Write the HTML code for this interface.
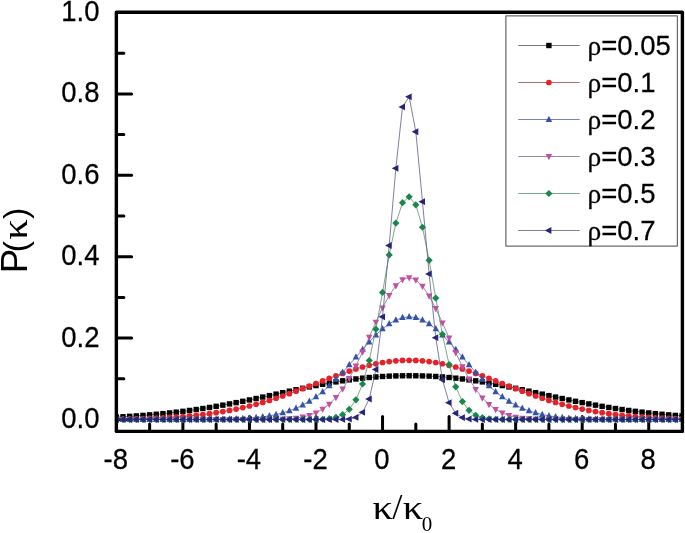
<!DOCTYPE html>
<html><head><meta charset="utf-8"><title>P(κ)</title>
<style>
html,body{margin:0;padding:0;background:#fff;}
body{width:685px;height:533px;overflow:hidden;}
svg{display:block;}
text{font-family:"Liberation Sans",sans-serif;fill:#000;}
.t{font-size:27.5px;stroke:#000;stroke-width:0.25px;}
.s{font-family:"Liberation Serif",serif;}
</style></head><body>
<svg width="685" height="533" viewBox="0 0 685 533">
<rect width="685" height="533" fill="#fff"/>

<defs><clipPath id="c"><rect x="116.35" y="12.3" width="566.05" height="419.09999999999997"/></clipPath></defs>
<path d="M149.62 431.4V423.9M182.90 431.4V416.4M216.17 431.4V423.9M249.45 431.4V416.4M282.72 431.4V423.9M315.99 431.4V416.4M349.27 431.4V423.9M382.54 431.4V416.4M415.82 431.4V423.9M449.09 431.4V416.4M482.36 431.4V423.9M515.64 431.4V416.4M548.91 431.4V423.9M582.19 431.4V416.4M615.46 431.4V423.9M648.73 431.4V416.4M116.35 419.50H131.65M116.35 378.80H123.85M116.35 338.10H131.65M116.35 297.40H123.85M116.35 256.70H131.65M116.35 216.00H123.85M116.35 175.30H131.65M116.35 134.60H123.85M116.35 93.90H131.65M116.35 53.20H123.85" stroke="#000" stroke-width="3.0" fill="none" stroke-linecap="round"/>
<g clip-path="url(#c)">
<polyline points="116.35,417.13 123.00,416.76 129.66,416.36 136.31,415.91 142.97,415.42 149.62,414.87 156.28,414.27 162.93,413.62 169.59,412.92 176.24,412.15 182.90,411.33 189.55,410.45 196.21,409.51 202.86,408.51 209.52,407.44 216.17,406.32 222.83,405.14 229.48,403.91 236.14,402.62 242.79,401.29 249.45,399.92 256.10,398.51 262.76,397.07 269.41,395.61 276.07,394.14 282.72,392.66 289.37,391.19 296.03,389.74 302.68,388.31 309.34,386.91 315.99,385.56 322.65,384.27 329.30,383.05 335.96,381.89 342.61,380.82 349.27,379.84 355.92,378.96 362.58,378.18 369.23,377.50 375.89,376.94 382.54,376.48 389.20,376.14 395.85,375.91 402.51,375.77 409.16,375.74 415.82,375.77 422.47,375.91 429.13,376.14 435.78,376.48 442.44,376.94 449.09,377.50 455.74,378.18 462.40,378.96 469.05,379.84 475.71,380.82 482.36,381.89 489.02,383.05 495.67,384.27 502.33,385.56 508.98,386.91 515.64,388.31 522.29,389.74 528.95,391.19 535.60,392.66 542.26,394.14 548.91,395.61 555.57,397.07 562.22,398.51 568.88,399.92 575.53,401.29 582.19,402.62 588.84,403.91 595.50,405.14 602.15,406.32 608.81,407.44 615.46,408.51 622.11,409.51 628.77,410.45 635.42,411.33 642.08,412.15 648.73,412.92 655.39,413.62 662.04,414.27 668.70,414.87 675.35,415.42 682.01,415.91" fill="none" stroke="#555555" stroke-width="0.8"/>
<rect x="113.65" y="414.43" width="5.4" height="5.4" fill="#000000"/><rect x="120.30" y="414.06" width="5.4" height="5.4" fill="#000000"/><rect x="126.96" y="413.66" width="5.4" height="5.4" fill="#000000"/><rect x="133.61" y="413.21" width="5.4" height="5.4" fill="#000000"/><rect x="140.27" y="412.72" width="5.4" height="5.4" fill="#000000"/><rect x="146.92" y="412.17" width="5.4" height="5.4" fill="#000000"/><rect x="153.58" y="411.57" width="5.4" height="5.4" fill="#000000"/><rect x="160.23" y="410.92" width="5.4" height="5.4" fill="#000000"/><rect x="166.89" y="410.22" width="5.4" height="5.4" fill="#000000"/><rect x="173.54" y="409.45" width="5.4" height="5.4" fill="#000000"/><rect x="180.20" y="408.63" width="5.4" height="5.4" fill="#000000"/><rect x="186.85" y="407.75" width="5.4" height="5.4" fill="#000000"/><rect x="193.51" y="406.81" width="5.4" height="5.4" fill="#000000"/><rect x="200.16" y="405.81" width="5.4" height="5.4" fill="#000000"/><rect x="206.82" y="404.74" width="5.4" height="5.4" fill="#000000"/><rect x="213.47" y="403.62" width="5.4" height="5.4" fill="#000000"/><rect x="220.13" y="402.44" width="5.4" height="5.4" fill="#000000"/><rect x="226.78" y="401.21" width="5.4" height="5.4" fill="#000000"/><rect x="233.44" y="399.92" width="5.4" height="5.4" fill="#000000"/><rect x="240.09" y="398.59" width="5.4" height="5.4" fill="#000000"/><rect x="246.75" y="397.22" width="5.4" height="5.4" fill="#000000"/><rect x="253.40" y="395.81" width="5.4" height="5.4" fill="#000000"/><rect x="260.06" y="394.37" width="5.4" height="5.4" fill="#000000"/><rect x="266.71" y="392.91" width="5.4" height="5.4" fill="#000000"/><rect x="273.37" y="391.44" width="5.4" height="5.4" fill="#000000"/><rect x="280.02" y="389.96" width="5.4" height="5.4" fill="#000000"/><rect x="286.67" y="388.49" width="5.4" height="5.4" fill="#000000"/><rect x="293.33" y="387.04" width="5.4" height="5.4" fill="#000000"/><rect x="299.98" y="385.61" width="5.4" height="5.4" fill="#000000"/><rect x="306.64" y="384.21" width="5.4" height="5.4" fill="#000000"/><rect x="313.29" y="382.86" width="5.4" height="5.4" fill="#000000"/><rect x="319.95" y="381.57" width="5.4" height="5.4" fill="#000000"/><rect x="326.60" y="380.35" width="5.4" height="5.4" fill="#000000"/><rect x="333.26" y="379.19" width="5.4" height="5.4" fill="#000000"/><rect x="339.91" y="378.12" width="5.4" height="5.4" fill="#000000"/><rect x="346.57" y="377.14" width="5.4" height="5.4" fill="#000000"/><rect x="353.22" y="376.26" width="5.4" height="5.4" fill="#000000"/><rect x="359.88" y="375.48" width="5.4" height="5.4" fill="#000000"/><rect x="366.53" y="374.80" width="5.4" height="5.4" fill="#000000"/><rect x="373.19" y="374.24" width="5.4" height="5.4" fill="#000000"/><rect x="379.84" y="373.78" width="5.4" height="5.4" fill="#000000"/><rect x="386.50" y="373.44" width="5.4" height="5.4" fill="#000000"/><rect x="393.15" y="373.21" width="5.4" height="5.4" fill="#000000"/><rect x="399.81" y="373.07" width="5.4" height="5.4" fill="#000000"/><rect x="406.46" y="373.04" width="5.4" height="5.4" fill="#000000"/><rect x="413.12" y="373.07" width="5.4" height="5.4" fill="#000000"/><rect x="419.77" y="373.21" width="5.4" height="5.4" fill="#000000"/><rect x="426.43" y="373.44" width="5.4" height="5.4" fill="#000000"/><rect x="433.08" y="373.78" width="5.4" height="5.4" fill="#000000"/><rect x="439.74" y="374.24" width="5.4" height="5.4" fill="#000000"/><rect x="446.39" y="374.80" width="5.4" height="5.4" fill="#000000"/><rect x="453.04" y="375.48" width="5.4" height="5.4" fill="#000000"/><rect x="459.70" y="376.26" width="5.4" height="5.4" fill="#000000"/><rect x="466.35" y="377.14" width="5.4" height="5.4" fill="#000000"/><rect x="473.01" y="378.12" width="5.4" height="5.4" fill="#000000"/><rect x="479.66" y="379.19" width="5.4" height="5.4" fill="#000000"/><rect x="486.32" y="380.35" width="5.4" height="5.4" fill="#000000"/><rect x="492.97" y="381.57" width="5.4" height="5.4" fill="#000000"/><rect x="499.63" y="382.86" width="5.4" height="5.4" fill="#000000"/><rect x="506.28" y="384.21" width="5.4" height="5.4" fill="#000000"/><rect x="512.94" y="385.61" width="5.4" height="5.4" fill="#000000"/><rect x="519.59" y="387.04" width="5.4" height="5.4" fill="#000000"/><rect x="526.25" y="388.49" width="5.4" height="5.4" fill="#000000"/><rect x="532.90" y="389.96" width="5.4" height="5.4" fill="#000000"/><rect x="539.56" y="391.44" width="5.4" height="5.4" fill="#000000"/><rect x="546.21" y="392.91" width="5.4" height="5.4" fill="#000000"/><rect x="552.87" y="394.37" width="5.4" height="5.4" fill="#000000"/><rect x="559.52" y="395.81" width="5.4" height="5.4" fill="#000000"/><rect x="566.18" y="397.22" width="5.4" height="5.4" fill="#000000"/><rect x="572.83" y="398.59" width="5.4" height="5.4" fill="#000000"/><rect x="579.49" y="399.92" width="5.4" height="5.4" fill="#000000"/><rect x="586.14" y="401.21" width="5.4" height="5.4" fill="#000000"/><rect x="592.80" y="402.44" width="5.4" height="5.4" fill="#000000"/><rect x="599.45" y="403.62" width="5.4" height="5.4" fill="#000000"/><rect x="606.11" y="404.74" width="5.4" height="5.4" fill="#000000"/><rect x="612.76" y="405.81" width="5.4" height="5.4" fill="#000000"/><rect x="619.41" y="406.81" width="5.4" height="5.4" fill="#000000"/><rect x="626.07" y="407.75" width="5.4" height="5.4" fill="#000000"/><rect x="632.72" y="408.63" width="5.4" height="5.4" fill="#000000"/><rect x="639.38" y="409.45" width="5.4" height="5.4" fill="#000000"/><rect x="646.03" y="410.22" width="5.4" height="5.4" fill="#000000"/><rect x="652.69" y="410.92" width="5.4" height="5.4" fill="#000000"/><rect x="659.34" y="411.57" width="5.4" height="5.4" fill="#000000"/><rect x="666.00" y="412.17" width="5.4" height="5.4" fill="#000000"/><rect x="672.65" y="412.72" width="5.4" height="5.4" fill="#000000"/><rect x="679.31" y="413.21" width="5.4" height="5.4" fill="#000000"/>
<polyline points="116.35,419.15 123.00,419.05 129.66,418.93 136.31,418.78 142.97,418.61 149.62,418.39 156.28,418.13 162.93,417.82 169.59,417.45 176.24,417.02 182.90,416.52 189.55,415.94 196.21,415.28 202.86,414.52 209.52,413.66 216.17,412.69 222.83,411.61 229.48,410.41 236.14,409.08 242.79,407.62 249.45,406.02 256.10,404.29 262.76,402.42 269.41,400.41 276.07,398.27 282.72,396.01 289.37,393.65 296.03,391.19 302.68,388.67 309.34,386.09 315.99,383.48 322.65,380.88 329.30,378.31 335.96,375.80 342.61,373.39 349.27,371.10 355.92,368.97 362.58,367.01 369.23,365.28 375.89,363.77 382.54,362.52 389.20,361.54 395.85,360.84 402.51,360.43 409.16,360.30 415.82,360.43 422.47,360.84 429.13,361.54 435.78,362.52 442.44,363.77 449.09,365.28 455.74,367.01 462.40,368.97 469.05,371.10 475.71,373.39 482.36,375.80 489.02,378.31 495.67,380.88 502.33,383.48 508.98,386.09 515.64,388.67 522.29,391.19 528.95,393.65 535.60,396.01 542.26,398.27 548.91,400.41 555.57,402.42 562.22,404.29 568.88,406.02 575.53,407.62 582.19,409.08 588.84,410.41 595.50,411.61 602.15,412.69 608.81,413.66 615.46,414.52 622.11,415.28 628.77,415.94 635.42,416.52 642.08,417.02 648.73,417.45 655.39,417.82 662.04,418.13 668.70,418.39 675.35,418.61 682.01,418.78" fill="none" stroke="#8e4c4c" stroke-width="0.8"/>
<circle cx="116.35" cy="419.15" r="2.85" fill="#e6212a"/><circle cx="123.00" cy="419.05" r="2.85" fill="#e6212a"/><circle cx="129.66" cy="418.93" r="2.85" fill="#e6212a"/><circle cx="136.31" cy="418.78" r="2.85" fill="#e6212a"/><circle cx="142.97" cy="418.61" r="2.85" fill="#e6212a"/><circle cx="149.62" cy="418.39" r="2.85" fill="#e6212a"/><circle cx="156.28" cy="418.13" r="2.85" fill="#e6212a"/><circle cx="162.93" cy="417.82" r="2.85" fill="#e6212a"/><circle cx="169.59" cy="417.45" r="2.85" fill="#e6212a"/><circle cx="176.24" cy="417.02" r="2.85" fill="#e6212a"/><circle cx="182.90" cy="416.52" r="2.85" fill="#e6212a"/><circle cx="189.55" cy="415.94" r="2.85" fill="#e6212a"/><circle cx="196.21" cy="415.28" r="2.85" fill="#e6212a"/><circle cx="202.86" cy="414.52" r="2.85" fill="#e6212a"/><circle cx="209.52" cy="413.66" r="2.85" fill="#e6212a"/><circle cx="216.17" cy="412.69" r="2.85" fill="#e6212a"/><circle cx="222.83" cy="411.61" r="2.85" fill="#e6212a"/><circle cx="229.48" cy="410.41" r="2.85" fill="#e6212a"/><circle cx="236.14" cy="409.08" r="2.85" fill="#e6212a"/><circle cx="242.79" cy="407.62" r="2.85" fill="#e6212a"/><circle cx="249.45" cy="406.02" r="2.85" fill="#e6212a"/><circle cx="256.10" cy="404.29" r="2.85" fill="#e6212a"/><circle cx="262.76" cy="402.42" r="2.85" fill="#e6212a"/><circle cx="269.41" cy="400.41" r="2.85" fill="#e6212a"/><circle cx="276.07" cy="398.27" r="2.85" fill="#e6212a"/><circle cx="282.72" cy="396.01" r="2.85" fill="#e6212a"/><circle cx="289.37" cy="393.65" r="2.85" fill="#e6212a"/><circle cx="296.03" cy="391.19" r="2.85" fill="#e6212a"/><circle cx="302.68" cy="388.67" r="2.85" fill="#e6212a"/><circle cx="309.34" cy="386.09" r="2.85" fill="#e6212a"/><circle cx="315.99" cy="383.48" r="2.85" fill="#e6212a"/><circle cx="322.65" cy="380.88" r="2.85" fill="#e6212a"/><circle cx="329.30" cy="378.31" r="2.85" fill="#e6212a"/><circle cx="335.96" cy="375.80" r="2.85" fill="#e6212a"/><circle cx="342.61" cy="373.39" r="2.85" fill="#e6212a"/><circle cx="349.27" cy="371.10" r="2.85" fill="#e6212a"/><circle cx="355.92" cy="368.97" r="2.85" fill="#e6212a"/><circle cx="362.58" cy="367.01" r="2.85" fill="#e6212a"/><circle cx="369.23" cy="365.28" r="2.85" fill="#e6212a"/><circle cx="375.89" cy="363.77" r="2.85" fill="#e6212a"/><circle cx="382.54" cy="362.52" r="2.85" fill="#e6212a"/><circle cx="389.20" cy="361.54" r="2.85" fill="#e6212a"/><circle cx="395.85" cy="360.84" r="2.85" fill="#e6212a"/><circle cx="402.51" cy="360.43" r="2.85" fill="#e6212a"/><circle cx="409.16" cy="360.30" r="2.85" fill="#e6212a"/><circle cx="415.82" cy="360.43" r="2.85" fill="#e6212a"/><circle cx="422.47" cy="360.84" r="2.85" fill="#e6212a"/><circle cx="429.13" cy="361.54" r="2.85" fill="#e6212a"/><circle cx="435.78" cy="362.52" r="2.85" fill="#e6212a"/><circle cx="442.44" cy="363.77" r="2.85" fill="#e6212a"/><circle cx="449.09" cy="365.28" r="2.85" fill="#e6212a"/><circle cx="455.74" cy="367.01" r="2.85" fill="#e6212a"/><circle cx="462.40" cy="368.97" r="2.85" fill="#e6212a"/><circle cx="469.05" cy="371.10" r="2.85" fill="#e6212a"/><circle cx="475.71" cy="373.39" r="2.85" fill="#e6212a"/><circle cx="482.36" cy="375.80" r="2.85" fill="#e6212a"/><circle cx="489.02" cy="378.31" r="2.85" fill="#e6212a"/><circle cx="495.67" cy="380.88" r="2.85" fill="#e6212a"/><circle cx="502.33" cy="383.48" r="2.85" fill="#e6212a"/><circle cx="508.98" cy="386.09" r="2.85" fill="#e6212a"/><circle cx="515.64" cy="388.67" r="2.85" fill="#e6212a"/><circle cx="522.29" cy="391.19" r="2.85" fill="#e6212a"/><circle cx="528.95" cy="393.65" r="2.85" fill="#e6212a"/><circle cx="535.60" cy="396.01" r="2.85" fill="#e6212a"/><circle cx="542.26" cy="398.27" r="2.85" fill="#e6212a"/><circle cx="548.91" cy="400.41" r="2.85" fill="#e6212a"/><circle cx="555.57" cy="402.42" r="2.85" fill="#e6212a"/><circle cx="562.22" cy="404.29" r="2.85" fill="#e6212a"/><circle cx="568.88" cy="406.02" r="2.85" fill="#e6212a"/><circle cx="575.53" cy="407.62" r="2.85" fill="#e6212a"/><circle cx="582.19" cy="409.08" r="2.85" fill="#e6212a"/><circle cx="588.84" cy="410.41" r="2.85" fill="#e6212a"/><circle cx="595.50" cy="411.61" r="2.85" fill="#e6212a"/><circle cx="602.15" cy="412.69" r="2.85" fill="#e6212a"/><circle cx="608.81" cy="413.66" r="2.85" fill="#e6212a"/><circle cx="615.46" cy="414.52" r="2.85" fill="#e6212a"/><circle cx="622.11" cy="415.28" r="2.85" fill="#e6212a"/><circle cx="628.77" cy="415.94" r="2.85" fill="#e6212a"/><circle cx="635.42" cy="416.52" r="2.85" fill="#e6212a"/><circle cx="642.08" cy="417.02" r="2.85" fill="#e6212a"/><circle cx="648.73" cy="417.45" r="2.85" fill="#e6212a"/><circle cx="655.39" cy="417.82" r="2.85" fill="#e6212a"/><circle cx="662.04" cy="418.13" r="2.85" fill="#e6212a"/><circle cx="668.70" cy="418.39" r="2.85" fill="#e6212a"/><circle cx="675.35" cy="418.61" r="2.85" fill="#e6212a"/><circle cx="682.01" cy="418.78" r="2.85" fill="#e6212a"/>
<polyline points="116.35,419.50 123.00,419.50 129.66,419.50 136.31,419.50 142.97,419.50 149.62,419.50 156.28,419.50 162.93,419.50 169.59,419.50 176.24,419.49 182.90,419.49 189.55,419.48 196.21,419.46 202.86,419.44 209.52,419.40 216.17,419.34 222.83,419.24 229.48,419.11 236.14,418.90 242.79,418.61 249.45,418.21 256.10,417.64 262.76,416.88 269.41,415.87 276.07,414.57 282.72,412.90 289.37,410.82 296.03,408.25 302.68,405.11 309.34,401.35 315.99,396.91 322.65,391.75 329.30,385.90 335.96,379.40 342.61,372.34 349.27,364.86 355.92,357.16 362.58,349.44 369.23,341.98 375.89,335.03 382.54,328.89 389.20,323.80 395.85,319.98 402.51,317.62 409.16,316.82 415.82,317.62 422.47,319.98 429.13,323.80 435.78,328.89 442.44,335.03 449.09,341.98 455.74,349.44 462.40,357.16 469.05,364.86 475.71,372.34 482.36,379.40 489.02,385.90 495.67,391.75 502.33,396.91 508.98,401.35 515.64,405.11 522.29,408.25 528.95,410.82 535.60,412.90 542.26,414.57 548.91,415.87 555.57,416.88 562.22,417.64 568.88,418.21 575.53,418.61 582.19,418.90 588.84,419.11 595.50,419.24 602.15,419.34 608.81,419.40 615.46,419.44 622.11,419.46 628.77,419.48 635.42,419.49 642.08,419.49 648.73,419.50 655.39,419.50 662.04,419.50 668.70,419.50 675.35,419.50 682.01,419.50" fill="none" stroke="#5560aa" stroke-width="0.8"/>
<path d="M113.10 421.90L119.60 421.90L116.35 415.70Z" fill="#3553a6"/><path d="M119.75 421.90L126.25 421.90L123.00 415.70Z" fill="#3553a6"/><path d="M126.41 421.90L132.91 421.90L129.66 415.70Z" fill="#3553a6"/><path d="M133.06 421.90L139.56 421.90L136.31 415.70Z" fill="#3553a6"/><path d="M139.72 421.90L146.22 421.90L142.97 415.70Z" fill="#3553a6"/><path d="M146.37 421.90L152.87 421.90L149.62 415.70Z" fill="#3553a6"/><path d="M153.03 421.90L159.53 421.90L156.28 415.70Z" fill="#3553a6"/><path d="M159.68 421.90L166.18 421.90L162.93 415.70Z" fill="#3553a6"/><path d="M166.34 421.90L172.84 421.90L169.59 415.70Z" fill="#3553a6"/><path d="M172.99 421.89L179.49 421.89L176.24 415.69Z" fill="#3553a6"/><path d="M179.65 421.89L186.15 421.89L182.90 415.69Z" fill="#3553a6"/><path d="M186.30 421.88L192.80 421.88L189.55 415.68Z" fill="#3553a6"/><path d="M192.96 421.86L199.46 421.86L196.21 415.66Z" fill="#3553a6"/><path d="M199.61 421.84L206.11 421.84L202.86 415.64Z" fill="#3553a6"/><path d="M206.27 421.80L212.77 421.80L209.52 415.60Z" fill="#3553a6"/><path d="M212.92 421.74L219.42 421.74L216.17 415.54Z" fill="#3553a6"/><path d="M219.58 421.64L226.08 421.64L222.83 415.44Z" fill="#3553a6"/><path d="M226.23 421.51L232.73 421.51L229.48 415.31Z" fill="#3553a6"/><path d="M232.89 421.30L239.39 421.30L236.14 415.10Z" fill="#3553a6"/><path d="M239.54 421.01L246.04 421.01L242.79 414.81Z" fill="#3553a6"/><path d="M246.20 420.61L252.70 420.61L249.45 414.41Z" fill="#3553a6"/><path d="M252.85 420.04L259.35 420.04L256.10 413.84Z" fill="#3553a6"/><path d="M259.51 419.28L266.01 419.28L262.76 413.08Z" fill="#3553a6"/><path d="M266.16 418.27L272.66 418.27L269.41 412.07Z" fill="#3553a6"/><path d="M272.82 416.97L279.32 416.97L276.07 410.77Z" fill="#3553a6"/><path d="M279.47 415.30L285.97 415.30L282.72 409.10Z" fill="#3553a6"/><path d="M286.12 413.22L292.62 413.22L289.37 407.02Z" fill="#3553a6"/><path d="M292.78 410.65L299.28 410.65L296.03 404.45Z" fill="#3553a6"/><path d="M299.43 407.51L305.93 407.51L302.68 401.31Z" fill="#3553a6"/><path d="M306.09 403.75L312.59 403.75L309.34 397.55Z" fill="#3553a6"/><path d="M312.74 399.31L319.24 399.31L315.99 393.11Z" fill="#3553a6"/><path d="M319.40 394.15L325.90 394.15L322.65 387.95Z" fill="#3553a6"/><path d="M326.05 388.30L332.55 388.30L329.30 382.10Z" fill="#3553a6"/><path d="M332.71 381.80L339.21 381.80L335.96 375.60Z" fill="#3553a6"/><path d="M339.36 374.74L345.86 374.74L342.61 368.54Z" fill="#3553a6"/><path d="M346.02 367.26L352.52 367.26L349.27 361.06Z" fill="#3553a6"/><path d="M352.67 359.56L359.17 359.56L355.92 353.36Z" fill="#3553a6"/><path d="M359.33 351.84L365.83 351.84L362.58 345.64Z" fill="#3553a6"/><path d="M365.98 344.38L372.48 344.38L369.23 338.18Z" fill="#3553a6"/><path d="M372.64 337.43L379.14 337.43L375.89 331.23Z" fill="#3553a6"/><path d="M379.29 331.29L385.79 331.29L382.54 325.09Z" fill="#3553a6"/><path d="M385.95 326.20L392.45 326.20L389.20 320.00Z" fill="#3553a6"/><path d="M392.60 322.38L399.10 322.38L395.85 316.18Z" fill="#3553a6"/><path d="M399.26 320.02L405.76 320.02L402.51 313.82Z" fill="#3553a6"/><path d="M405.91 319.22L412.41 319.22L409.16 313.02Z" fill="#3553a6"/><path d="M412.57 320.02L419.07 320.02L415.82 313.82Z" fill="#3553a6"/><path d="M419.22 322.38L425.72 322.38L422.47 316.18Z" fill="#3553a6"/><path d="M425.88 326.20L432.38 326.20L429.13 320.00Z" fill="#3553a6"/><path d="M432.53 331.29L439.03 331.29L435.78 325.09Z" fill="#3553a6"/><path d="M439.19 337.43L445.69 337.43L442.44 331.23Z" fill="#3553a6"/><path d="M445.84 344.38L452.34 344.38L449.09 338.18Z" fill="#3553a6"/><path d="M452.49 351.84L458.99 351.84L455.74 345.64Z" fill="#3553a6"/><path d="M459.15 359.56L465.65 359.56L462.40 353.36Z" fill="#3553a6"/><path d="M465.80 367.26L472.30 367.26L469.05 361.06Z" fill="#3553a6"/><path d="M472.46 374.74L478.96 374.74L475.71 368.54Z" fill="#3553a6"/><path d="M479.11 381.80L485.61 381.80L482.36 375.60Z" fill="#3553a6"/><path d="M485.77 388.30L492.27 388.30L489.02 382.10Z" fill="#3553a6"/><path d="M492.42 394.15L498.92 394.15L495.67 387.95Z" fill="#3553a6"/><path d="M499.08 399.31L505.58 399.31L502.33 393.11Z" fill="#3553a6"/><path d="M505.73 403.75L512.23 403.75L508.98 397.55Z" fill="#3553a6"/><path d="M512.39 407.51L518.89 407.51L515.64 401.31Z" fill="#3553a6"/><path d="M519.04 410.65L525.54 410.65L522.29 404.45Z" fill="#3553a6"/><path d="M525.70 413.22L532.20 413.22L528.95 407.02Z" fill="#3553a6"/><path d="M532.35 415.30L538.85 415.30L535.60 409.10Z" fill="#3553a6"/><path d="M539.01 416.97L545.51 416.97L542.26 410.77Z" fill="#3553a6"/><path d="M545.66 418.27L552.16 418.27L548.91 412.07Z" fill="#3553a6"/><path d="M552.32 419.28L558.82 419.28L555.57 413.08Z" fill="#3553a6"/><path d="M558.97 420.04L565.47 420.04L562.22 413.84Z" fill="#3553a6"/><path d="M565.63 420.61L572.13 420.61L568.88 414.41Z" fill="#3553a6"/><path d="M572.28 421.01L578.78 421.01L575.53 414.81Z" fill="#3553a6"/><path d="M578.94 421.30L585.44 421.30L582.19 415.10Z" fill="#3553a6"/><path d="M585.59 421.51L592.09 421.51L588.84 415.31Z" fill="#3553a6"/><path d="M592.25 421.64L598.75 421.64L595.50 415.44Z" fill="#3553a6"/><path d="M598.90 421.74L605.40 421.74L602.15 415.54Z" fill="#3553a6"/><path d="M605.56 421.80L612.06 421.80L608.81 415.60Z" fill="#3553a6"/><path d="M612.21 421.84L618.71 421.84L615.46 415.64Z" fill="#3553a6"/><path d="M618.86 421.86L625.36 421.86L622.11 415.66Z" fill="#3553a6"/><path d="M625.52 421.88L632.02 421.88L628.77 415.68Z" fill="#3553a6"/><path d="M632.17 421.89L638.67 421.89L635.42 415.69Z" fill="#3553a6"/><path d="M638.83 421.89L645.33 421.89L642.08 415.69Z" fill="#3553a6"/><path d="M645.48 421.90L651.98 421.90L648.73 415.70Z" fill="#3553a6"/><path d="M652.14 421.90L658.64 421.90L655.39 415.70Z" fill="#3553a6"/><path d="M658.79 421.90L665.29 421.90L662.04 415.70Z" fill="#3553a6"/><path d="M665.45 421.90L671.95 421.90L668.70 415.70Z" fill="#3553a6"/><path d="M672.10 421.90L678.60 421.90L675.35 415.70Z" fill="#3553a6"/><path d="M678.76 421.90L685.26 421.90L682.01 415.70Z" fill="#3553a6"/>
<polyline points="116.35,419.50 123.00,419.50 129.66,419.50 136.31,419.50 142.97,419.50 149.62,419.50 156.28,419.50 162.93,419.50 169.59,419.50 176.24,419.50 182.90,419.50 189.55,419.50 196.21,419.50 202.86,419.50 209.52,419.50 216.17,419.50 222.83,419.50 229.48,419.50 236.14,419.50 242.79,419.50 249.45,419.49 256.10,419.49 262.76,419.46 269.41,419.42 276.07,419.32 282.72,419.12 289.37,418.75 296.03,418.10 302.68,417.01 309.34,415.31 315.99,412.78 322.65,409.17 329.30,404.18 335.96,397.52 342.61,388.95 349.27,378.39 355.92,365.96 362.58,352.01 369.23,337.10 375.89,322.05 382.54,307.81 389.20,295.38 395.85,285.73 402.51,279.63 409.16,277.62 415.82,279.85 422.47,286.13 429.13,295.95 435.78,308.49 442.44,322.80 449.09,337.86 455.74,352.73 462.40,366.63 469.05,378.97 475.71,389.42 482.36,397.89 489.02,404.47 495.67,409.38 502.33,412.93 508.98,415.41 515.64,417.08 522.29,418.14 528.95,418.77 535.60,419.13 542.26,419.32 548.91,419.42 555.57,419.47 562.22,419.49 568.88,419.49 575.53,419.50 582.19,419.50 588.84,419.50 595.50,419.50 602.15,419.50 608.81,419.50 615.46,419.50 622.11,419.50 628.77,419.50 635.42,419.50 642.08,419.50 648.73,419.50 655.39,419.50 662.04,419.50 668.70,419.50 675.35,419.50 682.01,419.50" fill="none" stroke="#806c92" stroke-width="0.8"/>
<path d="M113.10 417.10L119.60 417.10L116.35 423.30Z" fill="#c34fa5"/><path d="M119.75 417.10L126.25 417.10L123.00 423.30Z" fill="#c34fa5"/><path d="M126.41 417.10L132.91 417.10L129.66 423.30Z" fill="#c34fa5"/><path d="M133.06 417.10L139.56 417.10L136.31 423.30Z" fill="#c34fa5"/><path d="M139.72 417.10L146.22 417.10L142.97 423.30Z" fill="#c34fa5"/><path d="M146.37 417.10L152.87 417.10L149.62 423.30Z" fill="#c34fa5"/><path d="M153.03 417.10L159.53 417.10L156.28 423.30Z" fill="#c34fa5"/><path d="M159.68 417.10L166.18 417.10L162.93 423.30Z" fill="#c34fa5"/><path d="M166.34 417.10L172.84 417.10L169.59 423.30Z" fill="#c34fa5"/><path d="M172.99 417.10L179.49 417.10L176.24 423.30Z" fill="#c34fa5"/><path d="M179.65 417.10L186.15 417.10L182.90 423.30Z" fill="#c34fa5"/><path d="M186.30 417.10L192.80 417.10L189.55 423.30Z" fill="#c34fa5"/><path d="M192.96 417.10L199.46 417.10L196.21 423.30Z" fill="#c34fa5"/><path d="M199.61 417.10L206.11 417.10L202.86 423.30Z" fill="#c34fa5"/><path d="M206.27 417.10L212.77 417.10L209.52 423.30Z" fill="#c34fa5"/><path d="M212.92 417.10L219.42 417.10L216.17 423.30Z" fill="#c34fa5"/><path d="M219.58 417.10L226.08 417.10L222.83 423.30Z" fill="#c34fa5"/><path d="M226.23 417.10L232.73 417.10L229.48 423.30Z" fill="#c34fa5"/><path d="M232.89 417.10L239.39 417.10L236.14 423.30Z" fill="#c34fa5"/><path d="M239.54 417.10L246.04 417.10L242.79 423.30Z" fill="#c34fa5"/><path d="M246.20 417.09L252.70 417.09L249.45 423.29Z" fill="#c34fa5"/><path d="M252.85 417.09L259.35 417.09L256.10 423.29Z" fill="#c34fa5"/><path d="M259.51 417.06L266.01 417.06L262.76 423.26Z" fill="#c34fa5"/><path d="M266.16 417.02L272.66 417.02L269.41 423.22Z" fill="#c34fa5"/><path d="M272.82 416.92L279.32 416.92L276.07 423.12Z" fill="#c34fa5"/><path d="M279.47 416.72L285.97 416.72L282.72 422.92Z" fill="#c34fa5"/><path d="M286.12 416.35L292.62 416.35L289.37 422.55Z" fill="#c34fa5"/><path d="M292.78 415.70L299.28 415.70L296.03 421.90Z" fill="#c34fa5"/><path d="M299.43 414.61L305.93 414.61L302.68 420.81Z" fill="#c34fa5"/><path d="M306.09 412.91L312.59 412.91L309.34 419.11Z" fill="#c34fa5"/><path d="M312.74 410.38L319.24 410.38L315.99 416.58Z" fill="#c34fa5"/><path d="M319.40 406.77L325.90 406.77L322.65 412.97Z" fill="#c34fa5"/><path d="M326.05 401.78L332.55 401.78L329.30 407.98Z" fill="#c34fa5"/><path d="M332.71 395.12L339.21 395.12L335.96 401.32Z" fill="#c34fa5"/><path d="M339.36 386.55L345.86 386.55L342.61 392.75Z" fill="#c34fa5"/><path d="M346.02 375.99L352.52 375.99L349.27 382.19Z" fill="#c34fa5"/><path d="M352.67 363.56L359.17 363.56L355.92 369.76Z" fill="#c34fa5"/><path d="M359.33 349.61L365.83 349.61L362.58 355.81Z" fill="#c34fa5"/><path d="M365.98 334.70L372.48 334.70L369.23 340.90Z" fill="#c34fa5"/><path d="M372.64 319.65L379.14 319.65L375.89 325.85Z" fill="#c34fa5"/><path d="M379.29 305.41L385.79 305.41L382.54 311.61Z" fill="#c34fa5"/><path d="M385.95 292.98L392.45 292.98L389.20 299.18Z" fill="#c34fa5"/><path d="M392.60 283.33L399.10 283.33L395.85 289.53Z" fill="#c34fa5"/><path d="M399.26 277.23L405.76 277.23L402.51 283.43Z" fill="#c34fa5"/><path d="M405.91 275.22L412.41 275.22L409.16 281.42Z" fill="#c34fa5"/><path d="M412.57 277.45L419.07 277.45L415.82 283.65Z" fill="#c34fa5"/><path d="M419.22 283.73L425.72 283.73L422.47 289.93Z" fill="#c34fa5"/><path d="M425.88 293.55L432.38 293.55L429.13 299.75Z" fill="#c34fa5"/><path d="M432.53 306.09L439.03 306.09L435.78 312.29Z" fill="#c34fa5"/><path d="M439.19 320.40L445.69 320.40L442.44 326.60Z" fill="#c34fa5"/><path d="M445.84 335.46L452.34 335.46L449.09 341.66Z" fill="#c34fa5"/><path d="M452.49 350.33L458.99 350.33L455.74 356.53Z" fill="#c34fa5"/><path d="M459.15 364.23L465.65 364.23L462.40 370.43Z" fill="#c34fa5"/><path d="M465.80 376.57L472.30 376.57L469.05 382.77Z" fill="#c34fa5"/><path d="M472.46 387.02L478.96 387.02L475.71 393.22Z" fill="#c34fa5"/><path d="M479.11 395.49L485.61 395.49L482.36 401.69Z" fill="#c34fa5"/><path d="M485.77 402.07L492.27 402.07L489.02 408.27Z" fill="#c34fa5"/><path d="M492.42 406.98L498.92 406.98L495.67 413.18Z" fill="#c34fa5"/><path d="M499.08 410.53L505.58 410.53L502.33 416.73Z" fill="#c34fa5"/><path d="M505.73 413.01L512.23 413.01L508.98 419.21Z" fill="#c34fa5"/><path d="M512.39 414.68L518.89 414.68L515.64 420.88Z" fill="#c34fa5"/><path d="M519.04 415.74L525.54 415.74L522.29 421.94Z" fill="#c34fa5"/><path d="M525.70 416.37L532.20 416.37L528.95 422.57Z" fill="#c34fa5"/><path d="M532.35 416.73L538.85 416.73L535.60 422.93Z" fill="#c34fa5"/><path d="M539.01 416.92L545.51 416.92L542.26 423.12Z" fill="#c34fa5"/><path d="M545.66 417.02L552.16 417.02L548.91 423.22Z" fill="#c34fa5"/><path d="M552.32 417.07L558.82 417.07L555.57 423.27Z" fill="#c34fa5"/><path d="M558.97 417.09L565.47 417.09L562.22 423.29Z" fill="#c34fa5"/><path d="M565.63 417.09L572.13 417.09L568.88 423.29Z" fill="#c34fa5"/><path d="M572.28 417.10L578.78 417.10L575.53 423.30Z" fill="#c34fa5"/><path d="M578.94 417.10L585.44 417.10L582.19 423.30Z" fill="#c34fa5"/><path d="M585.59 417.10L592.09 417.10L588.84 423.30Z" fill="#c34fa5"/><path d="M592.25 417.10L598.75 417.10L595.50 423.30Z" fill="#c34fa5"/><path d="M598.90 417.10L605.40 417.10L602.15 423.30Z" fill="#c34fa5"/><path d="M605.56 417.10L612.06 417.10L608.81 423.30Z" fill="#c34fa5"/><path d="M612.21 417.10L618.71 417.10L615.46 423.30Z" fill="#c34fa5"/><path d="M618.86 417.10L625.36 417.10L622.11 423.30Z" fill="#c34fa5"/><path d="M625.52 417.10L632.02 417.10L628.77 423.30Z" fill="#c34fa5"/><path d="M632.17 417.10L638.67 417.10L635.42 423.30Z" fill="#c34fa5"/><path d="M638.83 417.10L645.33 417.10L642.08 423.30Z" fill="#c34fa5"/><path d="M645.48 417.10L651.98 417.10L648.73 423.30Z" fill="#c34fa5"/><path d="M652.14 417.10L658.64 417.10L655.39 423.30Z" fill="#c34fa5"/><path d="M658.79 417.10L665.29 417.10L662.04 423.30Z" fill="#c34fa5"/><path d="M665.45 417.10L671.95 417.10L668.70 423.30Z" fill="#c34fa5"/><path d="M672.10 417.10L678.60 417.10L675.35 423.30Z" fill="#c34fa5"/><path d="M678.76 417.10L685.26 417.10L682.01 423.30Z" fill="#c34fa5"/>
<polyline points="116.35,419.50 123.00,419.50 129.66,419.50 136.31,419.50 142.97,419.50 149.62,419.50 156.28,419.50 162.93,419.50 169.59,419.50 176.24,419.50 182.90,419.50 189.55,419.50 196.21,419.50 202.86,419.50 209.52,419.50 216.17,419.50 222.83,419.50 229.48,419.50 236.14,419.50 242.79,419.50 249.45,419.50 256.10,419.50 262.76,419.50 269.41,419.50 276.07,419.50 282.72,419.50 289.37,419.50 296.03,419.50 302.68,419.49 309.34,419.48 315.99,419.41 322.65,419.23 329.30,418.71 335.96,417.43 342.61,414.68 349.27,409.34 355.92,399.79 362.58,384.02 369.23,360.49 375.89,329.18 382.54,292.41 389.20,254.95 395.85,223.09 402.51,202.70 409.16,196.79 415.82,204.86 422.47,227.27 429.13,260.37 435.78,298.11 442.44,334.31 449.09,364.54 455.74,386.86 462.40,401.57 469.05,410.36 475.71,415.23 482.36,417.70 489.02,418.82 495.67,419.27 502.33,419.43 508.98,419.48 515.64,419.49 522.29,419.50 528.95,419.50 535.60,419.50 542.26,419.50 548.91,419.50 555.57,419.50 562.22,419.50 568.88,419.50 575.53,419.50 582.19,419.50 588.84,419.50 595.50,419.50 602.15,419.50 608.81,419.50 615.46,419.50 622.11,419.50 628.77,419.50 635.42,419.50 642.08,419.50 648.73,419.50 655.39,419.50 662.04,419.50 668.70,419.50 675.35,419.50 682.01,419.50" fill="none" stroke="#5c9070" stroke-width="0.8"/>
<path d="M112.75 419.50L116.35 415.90L119.95 419.50L116.35 423.10Z" fill="#17884a"/><path d="M119.40 419.50L123.00 415.90L126.60 419.50L123.00 423.10Z" fill="#17884a"/><path d="M126.06 419.50L129.66 415.90L133.26 419.50L129.66 423.10Z" fill="#17884a"/><path d="M132.71 419.50L136.31 415.90L139.91 419.50L136.31 423.10Z" fill="#17884a"/><path d="M139.37 419.50L142.97 415.90L146.57 419.50L142.97 423.10Z" fill="#17884a"/><path d="M146.02 419.50L149.62 415.90L153.22 419.50L149.62 423.10Z" fill="#17884a"/><path d="M152.68 419.50L156.28 415.90L159.88 419.50L156.28 423.10Z" fill="#17884a"/><path d="M159.33 419.50L162.93 415.90L166.53 419.50L162.93 423.10Z" fill="#17884a"/><path d="M165.99 419.50L169.59 415.90L173.19 419.50L169.59 423.10Z" fill="#17884a"/><path d="M172.64 419.50L176.24 415.90L179.84 419.50L176.24 423.10Z" fill="#17884a"/><path d="M179.30 419.50L182.90 415.90L186.50 419.50L182.90 423.10Z" fill="#17884a"/><path d="M185.95 419.50L189.55 415.90L193.15 419.50L189.55 423.10Z" fill="#17884a"/><path d="M192.61 419.50L196.21 415.90L199.81 419.50L196.21 423.10Z" fill="#17884a"/><path d="M199.26 419.50L202.86 415.90L206.46 419.50L202.86 423.10Z" fill="#17884a"/><path d="M205.92 419.50L209.52 415.90L213.12 419.50L209.52 423.10Z" fill="#17884a"/><path d="M212.57 419.50L216.17 415.90L219.77 419.50L216.17 423.10Z" fill="#17884a"/><path d="M219.23 419.50L222.83 415.90L226.43 419.50L222.83 423.10Z" fill="#17884a"/><path d="M225.88 419.50L229.48 415.90L233.08 419.50L229.48 423.10Z" fill="#17884a"/><path d="M232.54 419.50L236.14 415.90L239.74 419.50L236.14 423.10Z" fill="#17884a"/><path d="M239.19 419.50L242.79 415.90L246.39 419.50L242.79 423.10Z" fill="#17884a"/><path d="M245.85 419.50L249.45 415.90L253.05 419.50L249.45 423.10Z" fill="#17884a"/><path d="M252.50 419.50L256.10 415.90L259.70 419.50L256.10 423.10Z" fill="#17884a"/><path d="M259.16 419.50L262.76 415.90L266.36 419.50L262.76 423.10Z" fill="#17884a"/><path d="M265.81 419.50L269.41 415.90L273.01 419.50L269.41 423.10Z" fill="#17884a"/><path d="M272.47 419.50L276.07 415.90L279.67 419.50L276.07 423.10Z" fill="#17884a"/><path d="M279.12 419.50L282.72 415.90L286.32 419.50L282.72 423.10Z" fill="#17884a"/><path d="M285.77 419.50L289.37 415.90L292.97 419.50L289.37 423.10Z" fill="#17884a"/><path d="M292.43 419.50L296.03 415.90L299.63 419.50L296.03 423.10Z" fill="#17884a"/><path d="M299.08 419.49L302.68 415.89L306.28 419.49L302.68 423.09Z" fill="#17884a"/><path d="M305.74 419.48L309.34 415.88L312.94 419.48L309.34 423.08Z" fill="#17884a"/><path d="M312.39 419.41L315.99 415.81L319.59 419.41L315.99 423.01Z" fill="#17884a"/><path d="M319.05 419.23L322.65 415.63L326.25 419.23L322.65 422.83Z" fill="#17884a"/><path d="M325.70 418.71L329.30 415.11L332.90 418.71L329.30 422.31Z" fill="#17884a"/><path d="M332.36 417.43L335.96 413.83L339.56 417.43L335.96 421.03Z" fill="#17884a"/><path d="M339.01 414.68L342.61 411.08L346.21 414.68L342.61 418.28Z" fill="#17884a"/><path d="M345.67 409.34L349.27 405.74L352.87 409.34L349.27 412.94Z" fill="#17884a"/><path d="M352.32 399.79L355.92 396.19L359.52 399.79L355.92 403.39Z" fill="#17884a"/><path d="M358.98 384.02L362.58 380.42L366.18 384.02L362.58 387.62Z" fill="#17884a"/><path d="M365.63 360.49L369.23 356.89L372.83 360.49L369.23 364.09Z" fill="#17884a"/><path d="M372.29 329.18L375.89 325.58L379.49 329.18L375.89 332.78Z" fill="#17884a"/><path d="M378.94 292.41L382.54 288.81L386.14 292.41L382.54 296.01Z" fill="#17884a"/><path d="M385.60 254.95L389.20 251.35L392.80 254.95L389.20 258.55Z" fill="#17884a"/><path d="M392.25 223.09L395.85 219.49L399.45 223.09L395.85 226.69Z" fill="#17884a"/><path d="M398.91 202.70L402.51 199.10L406.11 202.70L402.51 206.30Z" fill="#17884a"/><path d="M405.56 196.79L409.16 193.19L412.76 196.79L409.16 200.39Z" fill="#17884a"/><path d="M412.22 204.86L415.82 201.26L419.42 204.86L415.82 208.46Z" fill="#17884a"/><path d="M418.87 227.27L422.47 223.67L426.07 227.27L422.47 230.87Z" fill="#17884a"/><path d="M425.53 260.37L429.13 256.77L432.73 260.37L429.13 263.97Z" fill="#17884a"/><path d="M432.18 298.11L435.78 294.51L439.38 298.11L435.78 301.71Z" fill="#17884a"/><path d="M438.84 334.31L442.44 330.71L446.04 334.31L442.44 337.91Z" fill="#17884a"/><path d="M445.49 364.54L449.09 360.94L452.69 364.54L449.09 368.14Z" fill="#17884a"/><path d="M452.14 386.86L455.74 383.26L459.34 386.86L455.74 390.46Z" fill="#17884a"/><path d="M458.80 401.57L462.40 397.97L466.00 401.57L462.40 405.17Z" fill="#17884a"/><path d="M465.45 410.36L469.05 406.76L472.65 410.36L469.05 413.96Z" fill="#17884a"/><path d="M472.11 415.23L475.71 411.63L479.31 415.23L475.71 418.83Z" fill="#17884a"/><path d="M478.76 417.70L482.36 414.10L485.96 417.70L482.36 421.30Z" fill="#17884a"/><path d="M485.42 418.82L489.02 415.22L492.62 418.82L489.02 422.42Z" fill="#17884a"/><path d="M492.07 419.27L495.67 415.67L499.27 419.27L495.67 422.87Z" fill="#17884a"/><path d="M498.73 419.43L502.33 415.83L505.93 419.43L502.33 423.03Z" fill="#17884a"/><path d="M505.38 419.48L508.98 415.88L512.58 419.48L508.98 423.08Z" fill="#17884a"/><path d="M512.04 419.49L515.64 415.89L519.24 419.49L515.64 423.09Z" fill="#17884a"/><path d="M518.69 419.50L522.29 415.90L525.89 419.50L522.29 423.10Z" fill="#17884a"/><path d="M525.35 419.50L528.95 415.90L532.55 419.50L528.95 423.10Z" fill="#17884a"/><path d="M532.00 419.50L535.60 415.90L539.20 419.50L535.60 423.10Z" fill="#17884a"/><path d="M538.66 419.50L542.26 415.90L545.86 419.50L542.26 423.10Z" fill="#17884a"/><path d="M545.31 419.50L548.91 415.90L552.51 419.50L548.91 423.10Z" fill="#17884a"/><path d="M551.97 419.50L555.57 415.90L559.17 419.50L555.57 423.10Z" fill="#17884a"/><path d="M558.62 419.50L562.22 415.90L565.82 419.50L562.22 423.10Z" fill="#17884a"/><path d="M565.28 419.50L568.88 415.90L572.48 419.50L568.88 423.10Z" fill="#17884a"/><path d="M571.93 419.50L575.53 415.90L579.13 419.50L575.53 423.10Z" fill="#17884a"/><path d="M578.59 419.50L582.19 415.90L585.79 419.50L582.19 423.10Z" fill="#17884a"/><path d="M585.24 419.50L588.84 415.90L592.44 419.50L588.84 423.10Z" fill="#17884a"/><path d="M591.90 419.50L595.50 415.90L599.10 419.50L595.50 423.10Z" fill="#17884a"/><path d="M598.55 419.50L602.15 415.90L605.75 419.50L602.15 423.10Z" fill="#17884a"/><path d="M605.21 419.50L608.81 415.90L612.41 419.50L608.81 423.10Z" fill="#17884a"/><path d="M611.86 419.50L615.46 415.90L619.06 419.50L615.46 423.10Z" fill="#17884a"/><path d="M618.51 419.50L622.11 415.90L625.71 419.50L622.11 423.10Z" fill="#17884a"/><path d="M625.17 419.50L628.77 415.90L632.37 419.50L628.77 423.10Z" fill="#17884a"/><path d="M631.82 419.50L635.42 415.90L639.02 419.50L635.42 423.10Z" fill="#17884a"/><path d="M638.48 419.50L642.08 415.90L645.68 419.50L642.08 423.10Z" fill="#17884a"/><path d="M645.13 419.50L648.73 415.90L652.33 419.50L648.73 423.10Z" fill="#17884a"/><path d="M651.79 419.50L655.39 415.90L658.99 419.50L655.39 423.10Z" fill="#17884a"/><path d="M658.44 419.50L662.04 415.90L665.64 419.50L662.04 423.10Z" fill="#17884a"/><path d="M665.10 419.50L668.70 415.90L672.30 419.50L668.70 423.10Z" fill="#17884a"/><path d="M671.75 419.50L675.35 415.90L678.95 419.50L675.35 423.10Z" fill="#17884a"/><path d="M678.41 419.50L682.01 415.90L685.61 419.50L682.01 423.10Z" fill="#17884a"/>
<polyline points="116.35,419.50 123.00,419.50 129.66,419.50 136.31,419.50 142.97,419.50 149.62,419.50 156.28,419.50 162.93,419.50 169.59,419.50 176.24,419.50 182.90,419.50 189.55,419.50 196.21,419.50 202.86,419.50 209.52,419.50 216.17,419.50 222.83,419.50 229.48,419.50 236.14,419.50 242.79,419.50 249.45,419.50 256.10,419.50 262.76,419.50 269.41,419.50 276.07,419.50 282.72,419.50 289.37,419.50 296.03,419.50 302.68,419.50 309.34,419.50 315.99,419.50 322.65,419.50 329.30,419.50 335.96,419.49 342.61,419.41 349.27,419.03 355.92,417.43 362.58,412.31 369.23,398.98 375.89,369.49 382.54,316.80 389.20,245.52 395.85,168.32 402.51,106.97 409.16,96.81 415.82,131.75 422.47,201.64 429.13,273.96 435.78,337.66 442.44,379.81 449.09,402.72 455.74,413.26 462.40,417.53 469.05,418.98 475.71,419.39 482.36,419.48 489.02,419.50 495.67,419.50 502.33,419.50 508.98,419.50 515.64,419.50 522.29,419.50 528.95,419.50 535.60,419.50 542.26,419.50 548.91,419.50 555.57,419.50 562.22,419.50 568.88,419.50 575.53,419.50 582.19,419.50 588.84,419.50 595.50,419.50 602.15,419.50 608.81,419.50 615.46,419.50 622.11,419.50 628.77,419.50 635.42,419.50 642.08,419.50 648.73,419.50 655.39,419.50 662.04,419.50 668.70,419.50 675.35,419.50 682.01,419.50" fill="none" stroke="#5e5e80" stroke-width="0.8"/>
<path d="M118.85 416.10L118.85 422.90L112.25 419.50Z" fill="#26247b"/><path d="M125.50 416.10L125.50 422.90L118.90 419.50Z" fill="#26247b"/><path d="M132.16 416.10L132.16 422.90L125.56 419.50Z" fill="#26247b"/><path d="M138.81 416.10L138.81 422.90L132.21 419.50Z" fill="#26247b"/><path d="M145.47 416.10L145.47 422.90L138.87 419.50Z" fill="#26247b"/><path d="M152.12 416.10L152.12 422.90L145.52 419.50Z" fill="#26247b"/><path d="M158.78 416.10L158.78 422.90L152.18 419.50Z" fill="#26247b"/><path d="M165.43 416.10L165.43 422.90L158.83 419.50Z" fill="#26247b"/><path d="M172.09 416.10L172.09 422.90L165.49 419.50Z" fill="#26247b"/><path d="M178.74 416.10L178.74 422.90L172.14 419.50Z" fill="#26247b"/><path d="M185.40 416.10L185.40 422.90L178.80 419.50Z" fill="#26247b"/><path d="M192.05 416.10L192.05 422.90L185.45 419.50Z" fill="#26247b"/><path d="M198.71 416.10L198.71 422.90L192.11 419.50Z" fill="#26247b"/><path d="M205.36 416.10L205.36 422.90L198.76 419.50Z" fill="#26247b"/><path d="M212.02 416.10L212.02 422.90L205.42 419.50Z" fill="#26247b"/><path d="M218.67 416.10L218.67 422.90L212.07 419.50Z" fill="#26247b"/><path d="M225.33 416.10L225.33 422.90L218.73 419.50Z" fill="#26247b"/><path d="M231.98 416.10L231.98 422.90L225.38 419.50Z" fill="#26247b"/><path d="M238.64 416.10L238.64 422.90L232.04 419.50Z" fill="#26247b"/><path d="M245.29 416.10L245.29 422.90L238.69 419.50Z" fill="#26247b"/><path d="M251.95 416.10L251.95 422.90L245.35 419.50Z" fill="#26247b"/><path d="M258.60 416.10L258.60 422.90L252.00 419.50Z" fill="#26247b"/><path d="M265.26 416.10L265.26 422.90L258.66 419.50Z" fill="#26247b"/><path d="M271.91 416.10L271.91 422.90L265.31 419.50Z" fill="#26247b"/><path d="M278.57 416.10L278.57 422.90L271.97 419.50Z" fill="#26247b"/><path d="M285.22 416.10L285.22 422.90L278.62 419.50Z" fill="#26247b"/><path d="M291.87 416.10L291.87 422.90L285.27 419.50Z" fill="#26247b"/><path d="M298.53 416.10L298.53 422.90L291.93 419.50Z" fill="#26247b"/><path d="M305.18 416.10L305.18 422.90L298.58 419.50Z" fill="#26247b"/><path d="M311.84 416.10L311.84 422.90L305.24 419.50Z" fill="#26247b"/><path d="M318.49 416.10L318.49 422.90L311.89 419.50Z" fill="#26247b"/><path d="M325.15 416.10L325.15 422.90L318.55 419.50Z" fill="#26247b"/><path d="M331.80 416.10L331.80 422.90L325.20 419.50Z" fill="#26247b"/><path d="M338.46 416.09L338.46 422.89L331.86 419.49Z" fill="#26247b"/><path d="M345.11 416.01L345.11 422.81L338.51 419.41Z" fill="#26247b"/><path d="M351.77 415.63L351.77 422.43L345.17 419.03Z" fill="#26247b"/><path d="M358.42 414.03L358.42 420.83L351.82 417.43Z" fill="#26247b"/><path d="M365.08 408.91L365.08 415.71L358.48 412.31Z" fill="#26247b"/><path d="M371.73 395.58L371.73 402.38L365.13 398.98Z" fill="#26247b"/><path d="M378.39 366.09L378.39 372.89L371.79 369.49Z" fill="#26247b"/><path d="M385.04 313.40L385.04 320.20L378.44 316.80Z" fill="#26247b"/><path d="M391.70 242.12L391.70 248.92L385.10 245.52Z" fill="#26247b"/><path d="M398.35 164.92L398.35 171.72L391.75 168.32Z" fill="#26247b"/><path d="M405.01 103.57L405.01 110.37L398.41 106.97Z" fill="#26247b"/><path d="M411.66 93.41L411.66 100.21L405.06 96.81Z" fill="#26247b"/><path d="M418.32 128.35L418.32 135.15L411.72 131.75Z" fill="#26247b"/><path d="M424.97 198.24L424.97 205.04L418.37 201.64Z" fill="#26247b"/><path d="M431.63 270.56L431.63 277.36L425.03 273.96Z" fill="#26247b"/><path d="M438.28 334.26L438.28 341.06L431.68 337.66Z" fill="#26247b"/><path d="M444.94 376.41L444.94 383.21L438.34 379.81Z" fill="#26247b"/><path d="M451.59 399.32L451.59 406.12L444.99 402.72Z" fill="#26247b"/><path d="M458.24 409.86L458.24 416.66L451.64 413.26Z" fill="#26247b"/><path d="M464.90 414.13L464.90 420.93L458.30 417.53Z" fill="#26247b"/><path d="M471.55 415.58L471.55 422.38L464.95 418.98Z" fill="#26247b"/><path d="M478.21 415.99L478.21 422.79L471.61 419.39Z" fill="#26247b"/><path d="M484.86 416.08L484.86 422.88L478.26 419.48Z" fill="#26247b"/><path d="M491.52 416.10L491.52 422.90L484.92 419.50Z" fill="#26247b"/><path d="M498.17 416.10L498.17 422.90L491.57 419.50Z" fill="#26247b"/><path d="M504.83 416.10L504.83 422.90L498.23 419.50Z" fill="#26247b"/><path d="M511.48 416.10L511.48 422.90L504.88 419.50Z" fill="#26247b"/><path d="M518.14 416.10L518.14 422.90L511.54 419.50Z" fill="#26247b"/><path d="M524.79 416.10L524.79 422.90L518.19 419.50Z" fill="#26247b"/><path d="M531.45 416.10L531.45 422.90L524.85 419.50Z" fill="#26247b"/><path d="M538.10 416.10L538.10 422.90L531.50 419.50Z" fill="#26247b"/><path d="M544.76 416.10L544.76 422.90L538.16 419.50Z" fill="#26247b"/><path d="M551.41 416.10L551.41 422.90L544.81 419.50Z" fill="#26247b"/><path d="M558.07 416.10L558.07 422.90L551.47 419.50Z" fill="#26247b"/><path d="M564.72 416.10L564.72 422.90L558.12 419.50Z" fill="#26247b"/><path d="M571.38 416.10L571.38 422.90L564.78 419.50Z" fill="#26247b"/><path d="M578.03 416.10L578.03 422.90L571.43 419.50Z" fill="#26247b"/><path d="M584.69 416.10L584.69 422.90L578.09 419.50Z" fill="#26247b"/><path d="M591.34 416.10L591.34 422.90L584.74 419.50Z" fill="#26247b"/><path d="M598.00 416.10L598.00 422.90L591.40 419.50Z" fill="#26247b"/><path d="M604.65 416.10L604.65 422.90L598.05 419.50Z" fill="#26247b"/><path d="M611.31 416.10L611.31 422.90L604.71 419.50Z" fill="#26247b"/><path d="M617.96 416.10L617.96 422.90L611.36 419.50Z" fill="#26247b"/><path d="M624.61 416.10L624.61 422.90L618.01 419.50Z" fill="#26247b"/><path d="M631.27 416.10L631.27 422.90L624.67 419.50Z" fill="#26247b"/><path d="M637.92 416.10L637.92 422.90L631.32 419.50Z" fill="#26247b"/><path d="M644.58 416.10L644.58 422.90L637.98 419.50Z" fill="#26247b"/><path d="M651.23 416.10L651.23 422.90L644.63 419.50Z" fill="#26247b"/><path d="M657.89 416.10L657.89 422.90L651.29 419.50Z" fill="#26247b"/><path d="M664.54 416.10L664.54 422.90L657.94 419.50Z" fill="#26247b"/><path d="M671.20 416.10L671.20 422.90L664.60 419.50Z" fill="#26247b"/><path d="M677.85 416.10L677.85 422.90L671.25 419.50Z" fill="#26247b"/><path d="M684.51 416.10L684.51 422.90L677.91 419.50Z" fill="#26247b"/>
</g>
<rect x="116.35" y="12.3" width="566.05" height="419.09999999999997" fill="none" stroke="#000" stroke-width="3.4" stroke-linejoin="round"/>
<text class="t" transform="translate(115.8,469.1) scale(1,1.04)" text-anchor="middle">-8</text>
<text class="t" transform="translate(182.4,469.1) scale(1,1.04)" text-anchor="middle">-6</text>
<text class="t" transform="translate(248.9,469.1) scale(1,1.04)" text-anchor="middle">-4</text>
<text class="t" transform="translate(315.5,469.1) scale(1,1.04)" text-anchor="middle">-2</text>
<text class="t" transform="translate(382.0,469.1) scale(1,1.04)" text-anchor="middle">0</text>
<text class="t" transform="translate(448.6,469.1) scale(1,1.04)" text-anchor="middle">2</text>
<text class="t" transform="translate(515.1,469.1) scale(1,1.04)" text-anchor="middle">4</text>
<text class="t" transform="translate(581.7,469.1) scale(1,1.04)" text-anchor="middle">6</text>
<text class="t" transform="translate(648.2,469.1) scale(1,1.04)" text-anchor="middle">8</text>
<text class="t" transform="translate(99.5,428.0) scale(1,1.04)" text-anchor="end">0.0</text>
<text class="t" transform="translate(99.5,346.6) scale(1,1.04)" text-anchor="end">0.2</text>
<text class="t" transform="translate(99.5,265.2) scale(1,1.04)" text-anchor="end">0.4</text>
<text class="t" transform="translate(99.5,183.8) scale(1,1.04)" text-anchor="end">0.6</text>
<text class="t" transform="translate(99.5,102.4) scale(1,1.04)" text-anchor="end">0.8</text>
<text class="t" transform="translate(99.5,21.0) scale(1,1.04)" text-anchor="end">1.0</text>
<rect x="505.9" y="15.9" width="171.39999999999998" height="230.2" fill="#fff" stroke="#333" stroke-width="0.9"/>
<path d="M518.2 45.5H579.7" stroke="#555555" stroke-width="0.8"/>
<rect x="546.20" y="42.80" width="5.4" height="5.4" fill="#000000"/>
<text class="t" transform="translate(587.5,55.0) scale(1,1.03)"><tspan class="s">ρ</tspan>=0.05</text>
<path d="M518.2 82.5H579.7" stroke="#8e4c4c" stroke-width="0.8"/>
<circle cx="548.90" cy="82.50" r="2.85" fill="#e6212a"/>
<text class="t" transform="translate(587.5,92.0) scale(1,1.03)"><tspan class="s">ρ</tspan>=0.1</text>
<path d="M518.2 119.5H579.7" stroke="#5560aa" stroke-width="0.8"/>
<path d="M545.65 121.90L552.15 121.90L548.90 115.70Z" fill="#3553a6"/>
<text class="t" transform="translate(587.5,129.0) scale(1,1.03)"><tspan class="s">ρ</tspan>=0.2</text>
<path d="M518.2 156.5H579.7" stroke="#806c92" stroke-width="0.8"/>
<path d="M545.65 154.10L552.15 154.10L548.90 160.30Z" fill="#c34fa5"/>
<text class="t" transform="translate(587.5,166.0) scale(1,1.03)"><tspan class="s">ρ</tspan>=0.3</text>
<path d="M518.2 193.5H579.7" stroke="#5c9070" stroke-width="0.8"/>
<path d="M545.30 193.50L548.90 189.90L552.50 193.50L548.90 197.10Z" fill="#17884a"/>
<text class="t" transform="translate(587.5,203.0) scale(1,1.03)"><tspan class="s">ρ</tspan>=0.5</text>
<path d="M518.2 230.5H579.7" stroke="#5e5e80" stroke-width="0.8"/>
<path d="M551.40 227.10L551.40 233.90L544.80 230.50Z" fill="#26247b"/>
<text class="t" transform="translate(587.5,240.0) scale(1,1.03)"><tspan class="s">ρ</tspan>=0.7</text>
<g transform="translate(27,0) rotate(-90)">
<text x="-273.2" y="0" font-size="36.5px">P</text>
<text x="-252.3" y="0" font-size="34px">(</text>
<text class="s" transform="translate(-239.8,0) scale(1.17,1)" font-size="35px">κ</text>
<text x="-219" y="0" font-size="34px">)</text>
</g>
<text class="s" transform="translate(372.5,519) scale(1.19,1)" font-size="34px">κ</text>
<text class="s" x="392.3" y="519" font-size="36.5px">/</text>
<text class="s" transform="translate(402.7,519) scale(1.19,1)" font-size="34px">κ</text>
<text class="s" x="421.8" y="531" font-size="21px">0</text>
</svg></body></html>
